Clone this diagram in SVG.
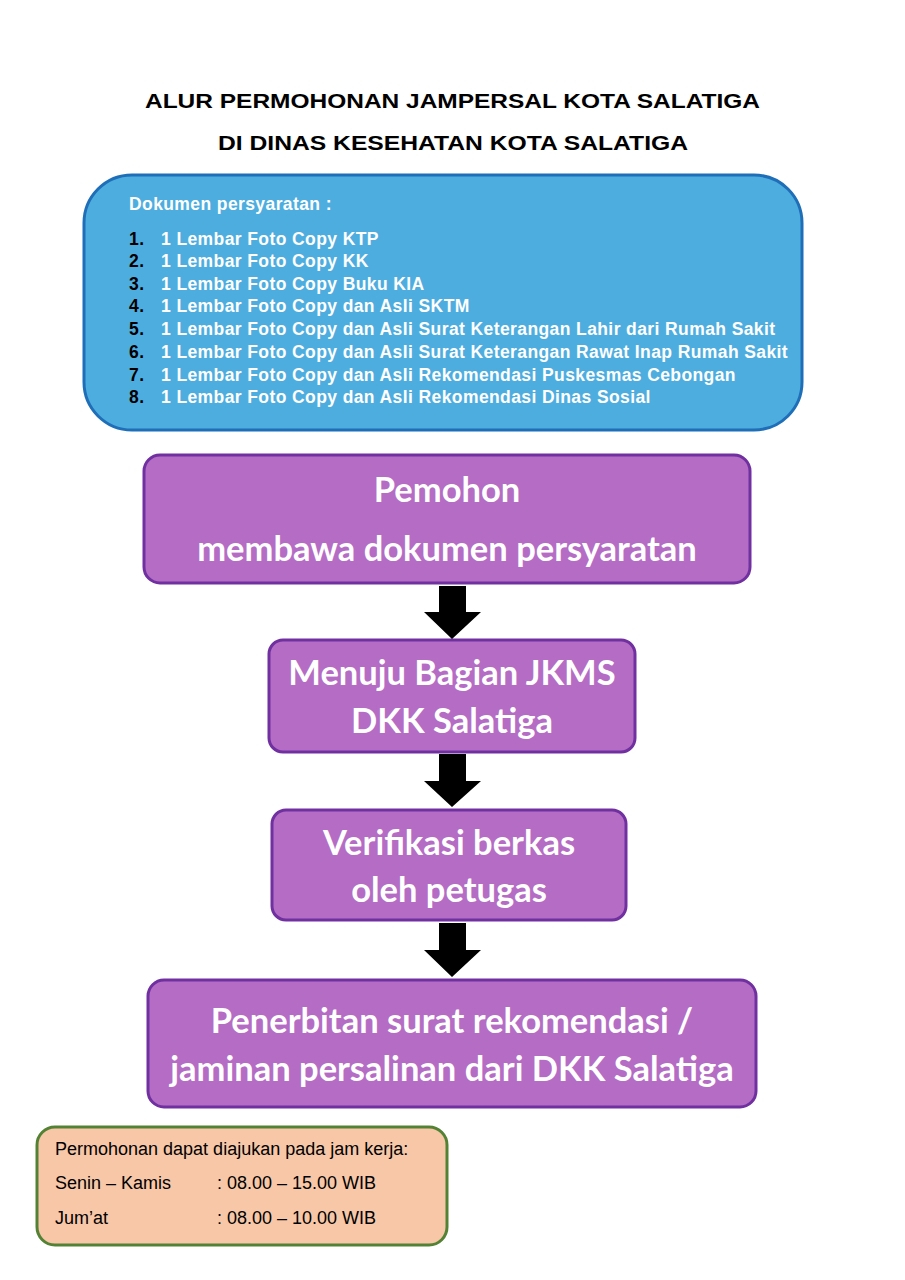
<svg xmlns="http://www.w3.org/2000/svg" width="905" height="1280" viewBox="0 0 905 1280">
<style>
.t{font-family:"Liberation Sans",Arial,sans-serif;font-weight:bold;font-size:21px;fill:#000}
.d{font-family:"Liberation Sans",Arial,sans-serif;font-weight:bold;font-size:17.5px;fill:#fff;letter-spacing:0.4px}
.n{fill:#000}
.p{fill:#b56cc4;stroke:#7030a0;stroke-width:3}
.pt{font-family:Lato,"Open Sans",sans-serif;font-weight:bold;fill:#fff;text-anchor:middle;font-size:34.5px}
.h{font-family:"Liberation Sans",Arial,sans-serif;font-size:18px;fill:#000}
</style>
<rect width="905" height="1280" fill="#fff"/>
<text class="t" x="145" y="108" textLength="615" lengthAdjust="spacingAndGlyphs">ALUR PERMOHONAN JAMPERSAL KOTA SALATIGA</text>
<text class="t" x="218" y="150" textLength="470" lengthAdjust="spacingAndGlyphs">DI DINAS KESEHATAN KOTA SALATIGA</text>
<g id="dokumen">
<rect x="84" y="175" width="718" height="255" rx="48" fill="#4eaddf" stroke="#1f6fb8" stroke-width="3"/>
<text class="d" x="129" y="210">Dokumen persyaratan :</text>
<g class="d">
<text x="129" y="245"><tspan class="n">1.</tspan><tspan x="161">1 Lembar Foto Copy KTP</tspan></text>
<text x="129" y="267"><tspan class="n">2.</tspan><tspan x="161">1 Lembar Foto Copy KK</tspan></text>
<text x="129" y="290"><tspan class="n">3.</tspan><tspan x="161">1 Lembar Foto Copy Buku KIA</tspan></text>
<text x="129" y="312"><tspan class="n">4.</tspan><tspan x="161">1 Lembar Foto Copy dan Asli SKTM</tspan></text>
<text x="129" y="335"><tspan class="n">5.</tspan><tspan x="161">1 Lembar Foto Copy dan Asli Surat Keterangan Lahir dari Rumah Sakit</tspan></text>
<text x="129" y="358"><tspan class="n">6.</tspan><tspan x="161">1 Lembar Foto Copy dan Asli Surat Keterangan Rawat Inap Rumah Sakit</tspan></text>
<text x="129" y="381"><tspan class="n">7.</tspan><tspan x="161">1 Lembar Foto Copy dan Asli Rekomendasi Puskesmas Cebongan</tspan></text>
<text x="129" y="403"><tspan class="n">8.</tspan><tspan x="161">1 Lembar Foto Copy dan Asli Rekomendasi Dinas Sosial</tspan></text>
</g>
</g>
<g id="pemohon">
<rect class="p" x="144" y="455" width="606" height="128" rx="16"/>
<text class="pt" x="447" y="502">Pemohon</text>
<text class="pt" x="447" y="561">membawa dokumen persyaratan</text>
</g>
<g id="menuju">
<rect class="p" x="269" y="640" width="366" height="112" rx="14"/>
<text class="pt" x="452" y="685">Menuju Bagian JKMS</text>
<text class="pt" x="452" y="733">DKK Salatiga</text>
</g>
<g id="verifikasi">
<rect class="p" x="272" y="810" width="354" height="110" rx="14"/>
<text class="pt" x="449" y="855">Verifikasi berkas</text>
<text class="pt" x="449" y="902">oleh petugas</text>
</g>
<g id="penerbitan">
<rect class="p" x="148" y="980" width="608" height="127" rx="16"/>
<text class="pt" x="452" y="1033">Penerbitan surat rekomendasi /</text>
<text class="pt" x="452" y="1081">jaminan persalinan dari DKK Salatiga</text>
</g>
<g id="connectors" fill="#000">
<polygon points="439,586 466,586 466,612 481,612 452,639 424,612 439,612"/>
<polygon points="439,754 466,754 466,781 481,781 452,807 424,781 439,781"/>
<polygon points="439,923 466,923 466,950 481,950 452,977 424,950 439,950"/>
</g>
<g id="jam">
<rect x="37" y="1127" width="410" height="118" rx="18" fill="#f7c7a8" stroke="#548235" stroke-width="3"/>
<text class="h" x="55" y="1155">Permohonan dapat diajukan pada jam kerja:</text>
<text class="h" x="55" y="1189">Senin – Kamis</text>
<text class="h" x="217" y="1189">: 08.00 – 15.00 WIB</text>
<text class="h" x="55" y="1224">Jum’at</text>
<text class="h" x="217" y="1224">: 08.00 – 10.00 WIB</text>
</g>
</svg>
